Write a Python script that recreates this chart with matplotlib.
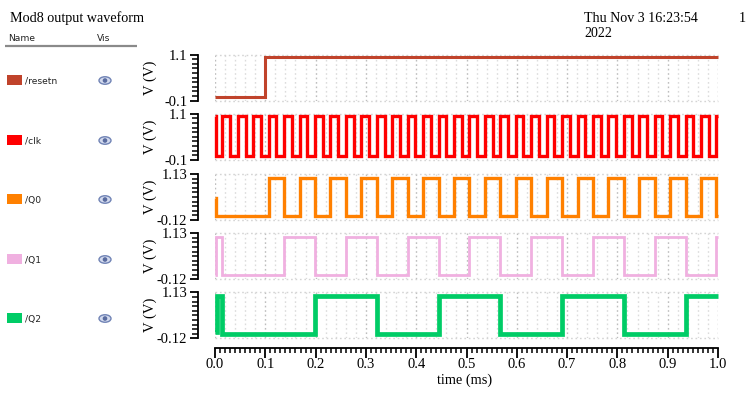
import numpy as np
import matplotlib
matplotlib.use("Agg")
import matplotlib.pyplot as plt
from matplotlib.patches import Ellipse, Circle, Rectangle

# ---------------- data ----------------
title = "Mod8 output waveform"
date_text = "Thu Nov 3 16:23:54\n2022"
signal_names = ["/resetn", "/clk", "/Q0", "/Q1", "/Q2"]
signal_colors = ["#c0432b", "#ff0000", "#ff8000", "#f0b0e0", "#00cc66"]
y_lows = [-0.1, -0.1, -0.12, -0.12, -0.12]
y_highs = [1.1, 1.1, 1.13, 1.13, 1.13]
y_low_labels = ["-0.1", "-0.1", "-0.12", "-0.12", "-0.12"]
y_high_labels = ["1.1", "1.1", "1.13", "1.13", "1.13"]
x_ticks = [0.0, 0.1, 0.2, 0.3, 0.4, 0.5, 0.6, 0.7, 0.8, 0.9, 1.0]
x_tick_labels = ["0.0", "0.1", "0.2", "0.3", "0.4", "0.5", "0.6", "0.7", "0.8", "0.9", "1.0"]

level_low = 0.0
level_high = 1.03

# resetn: time/value breakpoints (step-post)
resetn_t = [0.0, 0.1, 1.0]
resetn_v = [level_low, level_high, level_high]

# clk: initial value then transitions
clk_start_t = [0.0, 0.002]
clk_start_v = [level_high, level_low]
clk_rise = [0.0146, 0.0453, 0.0760, 0.1067, 0.1374, 0.1681, 0.1988, 0.2295, 0.2602,
            0.2909, 0.3216, 0.3523, 0.3830, 0.4137, 0.4444, 0.4751, 0.5058, 0.5365,
            0.5672, 0.5979, 0.6286, 0.6593, 0.6900, 0.7207, 0.7514, 0.7821, 0.8128,
            0.8435, 0.8742, 0.9049, 0.9356, 0.9663, 0.9970]
clk_fall = [0.0300, 0.0607, 0.0914, 0.1221, 0.1528, 0.1835, 0.2142, 0.2449, 0.2756,
            0.3063, 0.3370, 0.3677, 0.3984, 0.4291, 0.4598, 0.4905, 0.5212, 0.5519,
            0.5826, 0.6133, 0.6440, 0.6747, 0.7054, 0.7361, 0.7668, 0.7975, 0.8282,
            0.8589, 0.8896, 0.9203, 0.9510, 0.9817]

# Q0: initial transient then toggles
q0_start_t = [0.0, 0.002]
q0_start_v = [0.49, level_low]
q0_toggles = [0.1067, 0.1374, 0.1681, 0.1988, 0.2295, 0.2602, 0.2909, 0.3216, 0.3523,
              0.3830, 0.4137, 0.4444, 0.4751, 0.5058, 0.5365, 0.5672, 0.5979, 0.6286,
              0.6593, 0.6900, 0.7207, 0.7514, 0.7821, 0.8128, 0.8435, 0.8742, 0.9049,
              0.9356, 0.9663, 0.9970]

# Q1
q1_start_t = [0.0, 0.001, 0.0146]
q1_start_v = [level_low, level_high, level_low]
q1_toggles = [0.1374, 0.1988, 0.2602, 0.3216, 0.3830, 0.4444, 0.5058, 0.5672, 0.6286,
              0.6900, 0.7514, 0.8128, 0.8742, 0.9356, 0.9970]

# Q2
q2_start_t = [0.0, 0.003, 0.0146]
q2_start_v = [0.05, level_high, level_low]
q2_toggles = [0.1988, 0.3216, 0.4444, 0.5672, 0.6900, 0.8128, 0.9356]


def toggle_series(start_t, start_v, toggles, first_level, other_level, t_end=1.0):
    t = list(start_t)
    v = list(start_v)
    cur = first_level
    for e in toggles:
        t.append(e)
        v.append(cur)
        cur = other_level if cur == first_level else first_level
    t.append(t_end)
    v.append(v[-1])
    return t, v


clk_events = sorted([(x, level_high) for x in clk_rise] + [(x, level_low) for x in clk_fall])
clk_t = clk_start_t + [e[0] for e in clk_events] + [1.0]
clk_v = clk_start_v + [e[1] for e in clk_events]
clk_v = clk_v + [clk_v[-1]]

q0_t, q0_v = toggle_series(q0_start_t, q0_start_v, q0_toggles, level_high, level_low)
q1_t, q1_v = toggle_series(q1_start_t, q1_start_v, q1_toggles, level_high, level_low)
q2_t, q2_v = toggle_series(q2_start_t, q2_start_v, q2_toggles, level_high, level_low)

series_t = [resetn_t, clk_t, q0_t, q1_t, q2_t]
series_v = [resetn_v, clk_v, q0_v, q1_v, q2_v]
line_widths = [2.2, 2.4, 2.4, 2.0, 3.4]

# ---------------- layout ----------------
W, H = 750, 393
fig = plt.figure(figsize=(W / 100, H / 100), dpi=100)
fig.patch.set_facecolor("white")

serif = ["Liberation Serif", "DejaVu Serif"]
sans = ["DejaVu Sans"]

ax_left_px, ax_right_px = 215, 718
panel_bottoms_px = [100.5, 159.8, 220.0, 279.2, 338.3]
panel_h_px = 46.0

axes = []
for i in range(5):
    b = panel_bottoms_px[i]
    ax = fig.add_axes([ax_left_px / W, 1 - b / H, (ax_right_px - ax_left_px) / W, panel_h_px / H])
    axes.append(ax)
    lo, hi = y_lows[i], y_highs[i]
    ax.set_xlim(0, 1)
    ax.set_ylim(lo, hi)
    # grid
    for gx in np.arange(0, 1.0001, 0.02):
        major = abs(gx * 10 - round(gx * 10)) < 1e-6
        ax.axvline(gx, color="#bdbdbd" if major else "#dcdcdc", lw=1.0,
                   linestyle=(0, (1.2, 2.0)), zorder=0)
    for gy in (lo, hi):
        ax.axhline(gy, color="#d4d4d4", lw=1.0, linestyle=(0, (1.2, 2.0)), zorder=0, clip_on=False)
    ax.plot(series_t[i], series_v[i], drawstyle="steps-post", color=signal_colors[i],
            lw=line_widths[i], solid_joinstyle="miter", solid_capstyle="butt", zorder=3,
            clip_on=False)
    for s in ("top", "right"):
        ax.spines[s].set_visible(False)
    ax.spines["left"].set_position(("outward", 12))
    ax.spines["left"].set_linewidth(1.3)
    ax.set_yticks([lo, hi])
    ax.set_yticklabels([y_low_labels[i], y_high_labels[i]], fontfamily=serif, fontsize=10.5)
    ax.set_yticks(np.linspace(lo, hi, 11), minor=True)
    ax.tick_params(axis="y", which="major", direction="out", length=6, width=1.3, pad=2)
    ax.tick_params(axis="y", which="minor", direction="out", length=4, width=1.1)
    ax.set_ylabel("V (V)", fontfamily=serif, fontsize=10.5)
    ax.yaxis.set_label_coords((150 - ax_left_px) / (ax_right_px - ax_left_px), 0.5)
    ax.yaxis.label.set_va("center")
    ax.set_xticks(x_ticks)
    if i < 4:
        ax.spines["bottom"].set_visible(False)
        ax.tick_params(axis="x", which="both", length=0, labelbottom=False)
    else:
        ax.spines["bottom"].set_position(("outward", 7))
        ax.spines["bottom"].set_linewidth(1.3)
        ax.set_xticklabels(x_tick_labels, fontfamily=serif, fontsize=10.5)
        ax.set_xticks(np.arange(0, 1.0001, 0.01), minor=True)
        ax.tick_params(axis="x", which="major", direction="out", length=7, width=1.3, pad=0.5)
        ax.tick_params(axis="x", which="minor", direction="out", length=3.5, width=1.1)
        ax.set_xlabel("time (ms)", fontfamily=serif, fontsize=10.3)
        ax.xaxis.set_label_coords((465 - ax_left_px) / (ax_right_px - ax_left_px),
                                  -(380 - b) / panel_h_px)
        ax.xaxis.label.set_va("center")
    ax.set_facecolor("none")

# overlay in pixel coordinates
ov = fig.add_axes([0, 0, 1, 1], zorder=-1)
ov.set_xlim(0, W)
ov.set_ylim(H, 0)
ov.axis("off")

ov.text(10, 18, title, fontfamily=serif, fontsize=10.2, va="center", ha="left")
ov.text(584, 26, date_text, fontfamily=serif, fontsize=10.1, va="center", ha="left",
        linespacing=1.2)
ov.text(739, 18, "1", fontfamily=serif, fontsize=10.1, va="center", ha="left")

ov.text(8, 38.5, "Name", fontfamily=sans, fontsize=6.6, va="center", ha="left", color="#222222")
ov.text(97, 38.5, "Vis", fontfamily=sans, fontsize=6.6, va="center", ha="left", color="#222222")
ov.plot([5, 137], [46, 46], color="#8a8a8a", lw=1.6, solid_capstyle="butt")

row_y = [80.5, 140.5, 199.5, 259.5, 318.5]
for i in range(5):
    y = row_y[i]
    ov.add_patch(Rectangle((7, y - 6), 14.5, 10, facecolor=signal_colors[i], edgecolor="none"))
    ov.text(25, y + 1, signal_names[i], fontfamily=sans, fontsize=6.6, va="center", ha="left",
            color="#222222")
    ov.add_patch(Ellipse((105, y), 12, 7.5, facecolor="#d3daee", edgecolor="#7083b5", lw=1.0))
    ov.add_patch(Circle((105, y), 2.3, facecolor="#5a6ca0", edgecolor="none"))

fig.savefig("out.png", dpi=100)
